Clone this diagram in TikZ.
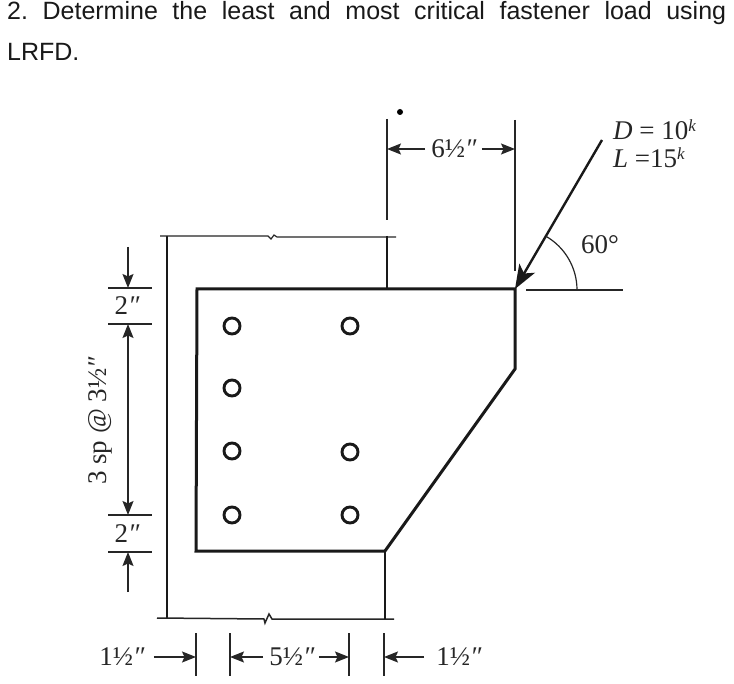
\documentclass[tikz,border=0pt]{standalone}
\usepackage{fontspec}
\setmainfont{Liberation Serif}
\newfontfamily\headfont{Liberation Sans}
\usetikzlibrary{arrows.meta}
\tikzset{
  thickline/.style={line width=3pt,line join=miter,draw=black!90},
  medline/.style={line width=2.4pt,draw=black!90},
  thinline/.style={line width=1.2pt,draw=black!85},
  dimarrow/.style={line width=1.3pt,draw=black!85,-{Stealth[length=14pt,width=11pt,inset=2.5pt]}},
  forcearrow/.style={line width=2.4pt,draw=black!90,-{Stealth[length=24pt,width=18pt,inset=6pt]}},
  hole/.style={circle,draw=black!90,line width=2.9pt,minimum size=16pt,inner sep=0pt},
  lbl/.style={inner sep=0pt,font=\fontsize{27}{29}\selectfont,text=black!85},
  head/.style={inner sep=0pt,anchor=north west,text width=719pt,align=justify,font=\headfont\fontsize{25}{41}\selectfont,text=black!90},
}
\begin{document}
\begin{tikzpicture}[x=1pt,y=-1pt]
\useasboundingbox (0,0) rectangle (734,684);
\fill[white] (0,0) rectangle (734,684);
\node[head] (title) at (7,1) {\frenchspacing 2. Determine the least and most critical fastener load using\linebreak LRFD.};
\node[fill=black,circle,inner sep=0pt,minimum size=6pt] (dot) at (400,112) {};

% outer member
\coordinate (tl) at (167,236);
\coordinate (bl) at (167,619);
\coordinate (tr) at (387,236);
\coordinate (br) at (385,619);
\draw[medline,line width=2.8pt] (tl) -- (bl);
\draw[thinline] (160,236) -- (268,236) -- (271,239) -- (274,235) -- (277,237) -- (396,237);
\draw[thinline,line width=1.5pt] (157,618) -- (264,619) -- (265,623) -- (269,614) -- (272,619) -- (394,619);
\coordinate (pa) at (197,289);
\coordinate (pb) at (515,289);
\coordinate (pc) at (515,369);
\coordinate (pd) at (385,551);
\coordinate (pe) at (196,551);
\draw[medline] (tr) -- (387,289);
\draw[medline] (pd) -- (br);
\draw[thickline] (pa) -- (pb) -- (pc) -- (pd) -- (pe) -- cycle;

% holes
\node[hole] (h1) at (232,326) {};
\node[hole] (h2) at (232,388) {};
\node[hole] (h3) at (232,451) {};
\node[hole] (h4) at (232,515) {};
\node[hole] (h5) at (350,326) {};
\node[hole] (h6) at (350,452) {};
\node[hole] (h7) at (350,515) {};

% top dimension
\coordinate (e1a) at (387,119);
\coordinate (e1b) at (387,220);
\coordinate (e2a) at (515,120);
\coordinate (e2b) at (515,271);
\draw[thinline] (e1a) -- (e1b);
\draw[thinline] (e2a) -- (e2b);
\node[lbl] (d65) at (454,149) {6½\textit{″}};
\coordinate (e1m) at (387,149);
\coordinate (e2m) at (515,149);
\draw[dimarrow] (d65.west) ++(-6,0) -- (e1m);
\draw[dimarrow] (d65.east) ++(5,0) -- (e2m);

% force
\coordinate (f1) at (602,140);
\draw[forcearrow] (f1) -- (pb);
\node[lbl,anchor=base west] (dl) at (613,140) {\textit{D} = 10\raisebox{8pt}{\fontsize{17}{17}\selectfont\textit{k}}};
\node[lbl,anchor=base west] (ll) at (613,168) {\textit{L} =15\raisebox{8pt}{\fontsize{17}{17}\selectfont\textit{k}}};
\coordinate (h1a) at (526,290);
\coordinate (h1b) at (623,290);
\draw[thinline] (h1a) -- (h1b);
\draw[thinline] (577,290) arc[start angle=0,end angle=-60,radius=62];
\node[lbl] (ang) at (600,245) {60°};

% left dimension
\foreach \n/\y in {a/288,b/324,c/515,d/552}{
  \coordinate (t\n1) at (108,\y);
  \coordinate (t\n2) at (152,\y);
  \coordinate (m\n) at (128,\y);
  \draw[thinline,line width=1.5pt] (t\n1) -- (t\n2);
}
\coordinate (up) at (128,247);
\coordinate (dn) at (128,592);
\draw[dimarrow] (up) -- (ma);
\draw[dimarrow] (dn) -- (md);
\draw[dimarrow,{Stealth[length=14pt,width=11pt,inset=2.5pt]}-{Stealth[length=14pt,width=11pt,inset=2.5pt]}] (mb) -- (mc);
\node[lbl] (d2a) at (127,306) {2\textit{″}};
\node[lbl] (d2b) at (127,534) {2\textit{″}};
\node[lbl,rotate=90] (sp) at (100,421) {3 sp @ 3½\textit{″}};

% bottom dimension
\foreach \n/\x in {a/196,b/230,c/349,d/384}{
  \coordinate (u\n) at (\x,633);
  \coordinate (v\n) at (\x,676);
  \coordinate (w\n) at (\x,657);
  \draw[thinline] (u\n) -- (v\n);
}
\node[lbl] (b1) at (122,657) {1½\textit{″}};
\node[lbl] (b2) at (292,657) {5½\textit{″}};
\node[lbl] (b3) at (459,657) {1½\textit{″}};
\draw[dimarrow] (b1.east) ++(9,0) -- (wa);
\draw[dimarrow] (b2.west) ++(-6,0) -- (wb);
\draw[dimarrow] (b2.east) ++(4,0) -- (wc);
\draw[dimarrow] (b3.west) ++(-12,0) -- (wd);
\end{tikzpicture}
\end{document}
